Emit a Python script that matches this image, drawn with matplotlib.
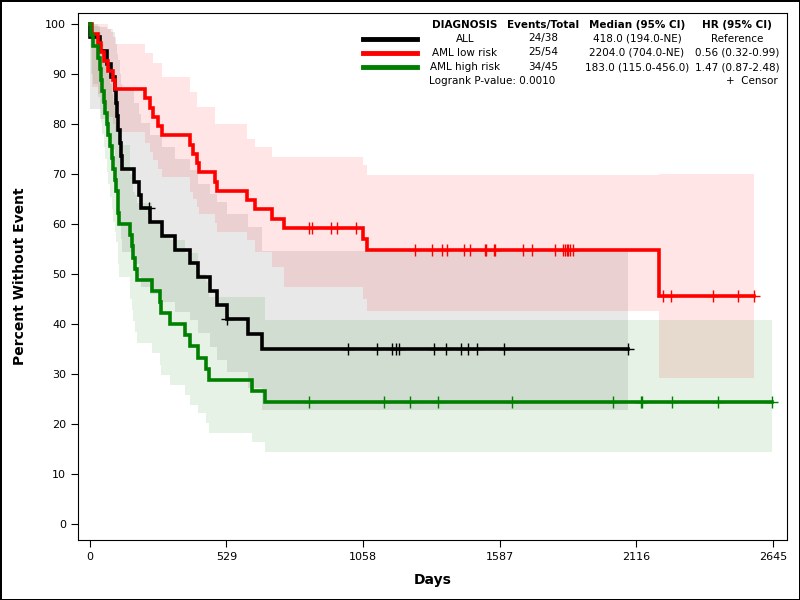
import numpy as np
import matplotlib.pyplot as plt
from matplotlib.lines import Line2D

# ALL
all_t = [0, 2, 40, 66, 81, 97, 103, 106, 110, 116, 120, 124, 170, 190, 197, 232, 279,
         329, 387, 418, 465, 492, 530, 614, 666]
all_s = [100, 97.4, 94.7, 92.1, 89.5, 86.8, 84.2, 81.6, 78.9, 76.3, 73.7, 71.1, 68.4, 65.8,
         63.2, 60.5, 57.7, 54.9, 52.2, 49.4, 46.7, 43.9, 41.0, 38.1, 35.1]
all_lo = [100, 83, 81, 78, 75, 71.5, 68.5, 65.5, 62.5, 60, 57, 54.5, 52, 49.5, 47.5, 46,
          44.5, 42.5, 40.8, 38.2, 35.5, 32.8, 30.5, 27.2, 22.8]
all_hi = [100, 99.6, 99.5, 99, 98.5, 97.5, 96, 94, 92.8, 90, 88, 86.8, 84.2, 82, 80.3,
          77.8, 75.5, 73.1, 70.8, 68, 66, 64.5, 62, 59.5, 54.6]
all_cens = [228, 531, 998, 1112, 1169, 1184, 1198, 1332, 1379, 1436, 1465, 1498, 1603, 2085]

# AML low risk
low_t = [0, 8, 31, 43, 54, 70, 89, 97, 213, 232, 244, 263, 279, 387, 399, 414, 422,
         484, 492, 608, 639, 705, 751, 1057, 1073, 2204]
low_s = [100, 98.1, 96.3, 94.4, 92.6, 90.7, 88.9, 87.0, 85.2, 83.3, 81.5, 79.6, 77.8,
         75.9, 74.1, 72.2, 70.4, 68.5, 66.7, 64.8, 63.0, 61.1, 59.3, 57.1, 54.9, 45.7]
low_lo = [100, 87.5, 86, 84.5, 83, 81.5, 80, 78.4, 76.2, 74.5, 72.8, 71, 69.4, 66.5, 65,
          63.5, 62, 60.2, 58.5, 56.8, 54.5, 51.5, 47.4, 45, 42.6, 29.3]
low_hi = [100, 100, 100, 100, 100, 99, 97.5, 96.1, 94.2, 94.2, 92.2, 92.2, 89.5, 86.5,
          86.5, 83.5, 83.5, 80.1, 80.1, 77.1, 75.4, 73.4, 73.4, 71.8, 69.8, 70.1]
low_cens = [849, 859, 933, 958, 1030, 1259, 1326, 1364, 1384, 1449, 1472, 1530, 1536,
            1566, 1569, 1676, 1711, 1801, 1833, 1840, 1846, 1852, 1859, 1870,
            2220, 2249, 2412, 2509, 2573]

# AML high risk
high_t = [0, 4, 12, 31, 39, 43, 46, 54, 58, 66, 70, 77, 87, 91, 97, 101, 107, 110, 114,
          155, 162, 168, 175, 183, 240, 271, 276, 310, 368, 387, 418, 449, 461, 627, 678]
high_s = [100, 97.8, 95.6, 93.3, 91.1, 88.9, 86.7, 84.4, 82.2, 80.0, 77.8, 75.6, 73.3,
          71.1, 68.9, 66.7, 64.4, 62.2, 60.0, 57.8, 55.6, 53.3, 51.1, 48.9, 46.7, 44.4,
          42.2, 40.0, 37.8, 35.6, 33.3, 31.1, 28.9, 26.7, 24.4]
high_lo = [100, 90, 88, 85.5, 83, 80.5, 78, 75.5, 73, 70.5, 68, 65.5, 63, 60.5, 58.5,
           56.5, 54.8, 52, 49.5, 45, 42.8, 40.6, 38.5, 36.2, 34.2, 31.8, 29.8, 27.8, 25.8,
           23.8, 22.2, 20.2, 18.2, 16.5, 14.5]
high_hi = [100, 100, 100, 99.5, 98.5, 97.5, 96, 94.5, 93, 91.5, 90, 88, 86, 84.5, 82.5,
           80.5, 78.5, 76.5, 75.8, 70, 68, 66.5, 65.8, 64.2, 60, 57.4, 57.4, 56.8, 54.2,
           54.2, 50, 48.5, 45.4, 45.5, 40.8]
high_cens = [848, 1139, 1239, 1347, 1633, 2027, 2134, 2140, 2255, 2434, 2643]

groups = [
    ('ALL', all_t, all_s, all_lo, all_hi, all_cens, 'black', (0, 0, 0, 0.09)),
    ('AML low risk', low_t, low_s, low_lo, low_hi, low_cens, '#ff0000', (1, 0, 0, 0.1)),
    ('AML high risk', high_t, high_s, high_lo, high_hi, high_cens, '#008000', (0, 0.5, 0, 0.1)),
]

header = ['DIAGNOSIS', 'Events/Total', 'Median (95% CI)', 'HR (95% CI)']
rows = [
    ['ALL', '24/38', '418.0 (194.0-NE)', 'Reference'],
    ['AML low risk', '25/54', '2204.0 (704.0-NE)', '0.56 (0.32-0.99)'],
    ['AML high risk', '34/45', '183.0 (115.0-456.0)', '1.47 (0.87-2.48)'],
]
pval = 'Logrank P-value: 0.0010'
xticks = [0, 529, 1058, 1587, 2116, 2645]

plt.rcParams['font.family'] = 'DejaVu Sans'
fig = plt.figure(figsize=(8, 6), dpi=100)
fig.patch.set_edgecolor('black')
fig.patch.set_linewidth(1)
ax = fig.add_axes([0.0975, 0.1, 0.886, 0.878])

# confidence bands
for name, t, s, lo, hi, cens, col, bandcol in groups:
    tend = max(cens)
    tt = np.append(t, tend)
    ax.fill_between(tt, np.append(lo, lo[-1]), np.append(hi, hi[-1]), step='post',
                    color=bandcol, lw=0)

# survival curves + censor marks
for name, t, s, lo, hi, cens, col, bandcol in groups:
    tend = max(cens)
    tt = np.append(t, tend)
    ss = np.append(s, s[-1])
    ax.step(tt, ss, where='post', color=col, lw=2.6, solid_joinstyle='miter')
    idx = np.searchsorted(t, cens, side='right') - 1
    ax.plot(cens, np.array(s)[idx], ls='none', marker='+', ms=9, mew=1, color=col)

ax.set_xlim(-46, 2699)
ax.set_ylim(-3.2, 102.2)
ax.set_xticks(xticks)
ax.set_yticks(range(0, 101, 10))
ax.tick_params(labelsize=8, length=5, direction='out')
ax.set_xlabel('Days', fontsize=10, fontweight='bold', labelpad=8)
ax.set_ylabel('Percent Without Event', fontsize=10, fontweight='bold', labelpad=13)

# legend table
def fx(px):
    return px / 800
def fy(py):
    return 1 - py / 600

cols_x = [465, 543, 637, 737]
for x, h in zip(cols_x, header):
    fig.text(fx(x), fy(25), h, ha='center', va='center', fontsize=7.5, fontweight='bold')
for i, (g, r) in enumerate(zip(groups, rows)):
    y = [38.5, 52.5, 67][i]
    fig.add_artist(Line2D([fx(363), fx(417)], [fy(y), fy(y)], color=g[6], lw=3.5))
    for x, txt in zip(cols_x, r):
        fig.text(fx(x), fy(y), txt, ha='center', va='center', fontsize=7.5)
fig.text(fx(429), fy(81.5), pval, ha='left', va='center', fontsize=7.5)
fig.text(fx(778), fy(81.5), '+  Censor', ha='right', va='center', fontsize=7.5)

plt.savefig('out.png', dpi=100, edgecolor=fig.get_edgecolor())
